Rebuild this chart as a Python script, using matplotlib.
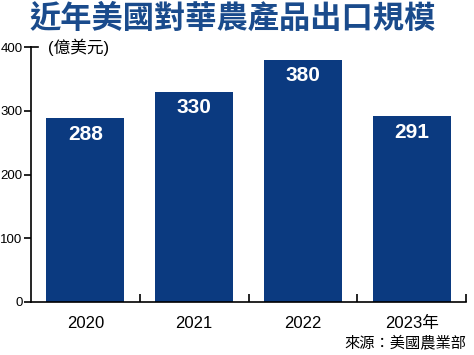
import matplotlib
matplotlib.use("Agg")
import matplotlib.pyplot as plt

plt.rcParams['font.family'] = ['Liberation Sans', 'Noto Sans CJK TC', 'DejaVu Sans']

years = ['2020', '2021', '2022', '2023年']
values = [288, 330, 380, 291]
yticks = [0, 100, 200, 300, 400]

navy = '#0b3a80'
title_blue = '#1a4b8c'

fig = plt.figure(figsize=(4.74, 3.55), dpi=100)
ax = fig.add_axes([31 / 474, 53 / 355, 435 / 474, 255 / 355])

x = list(range(len(years)))
ax.bar(x, values, width=0.715, color=navy, zorder=2)
for xi, v in zip(x, values):
    ax.text(xi, v - 25, str(v), ha='center', va='center', color='white',
            fontsize=15, fontweight='bold')

ax.set_xlim(-0.5, len(years) - 0.5)
ax.set_ylim(0, 400)
ax.set_yticks(yticks)
ax.set_yticklabels([str(t) for t in yticks], fontsize=9.5)
ax.tick_params(axis='y', direction='out', length=5, width=1.2, pad=1)

# category boundary ticks on the x axis, pointing up
ax.set_xticks([i + 0.5 for i in x])
ax.set_xticklabels([])
ax.tick_params(axis='x', direction='in', length=6, width=1.2)
for xi, lab in zip(x, years):
    ax.text(xi, -33, lab, ha='center', va='center', fontsize=12,
            transform=ax.transData, clip_on=False)

for s in ['top', 'right']:
    ax.spines[s].set_visible(False)
for s in ['left', 'bottom']:
    ax.spines[s].set_linewidth(1.2)
ax.plot([-0.5, -0.44], [400, 400], color='black', lw=1.2, clip_on=False)

ax.text(0.04, 1.0, '(億美元)', transform=ax.transAxes, ha='left', va='center',
        fontsize=12)

fig.text(0.49, 0.948, '近年美國對華農產品出口規模', ha='center', va='center',
         fontsize=22.5, fontweight='bold', color=title_blue,
         family=['Noto Sans CJK TC'])
fig.text(0.985, 0.033, '來源：美國農業部', ha='right', va='center',
         fontsize=11, family=['Noto Sans CJK TC'])

fig.savefig('out.png', dpi=100)
